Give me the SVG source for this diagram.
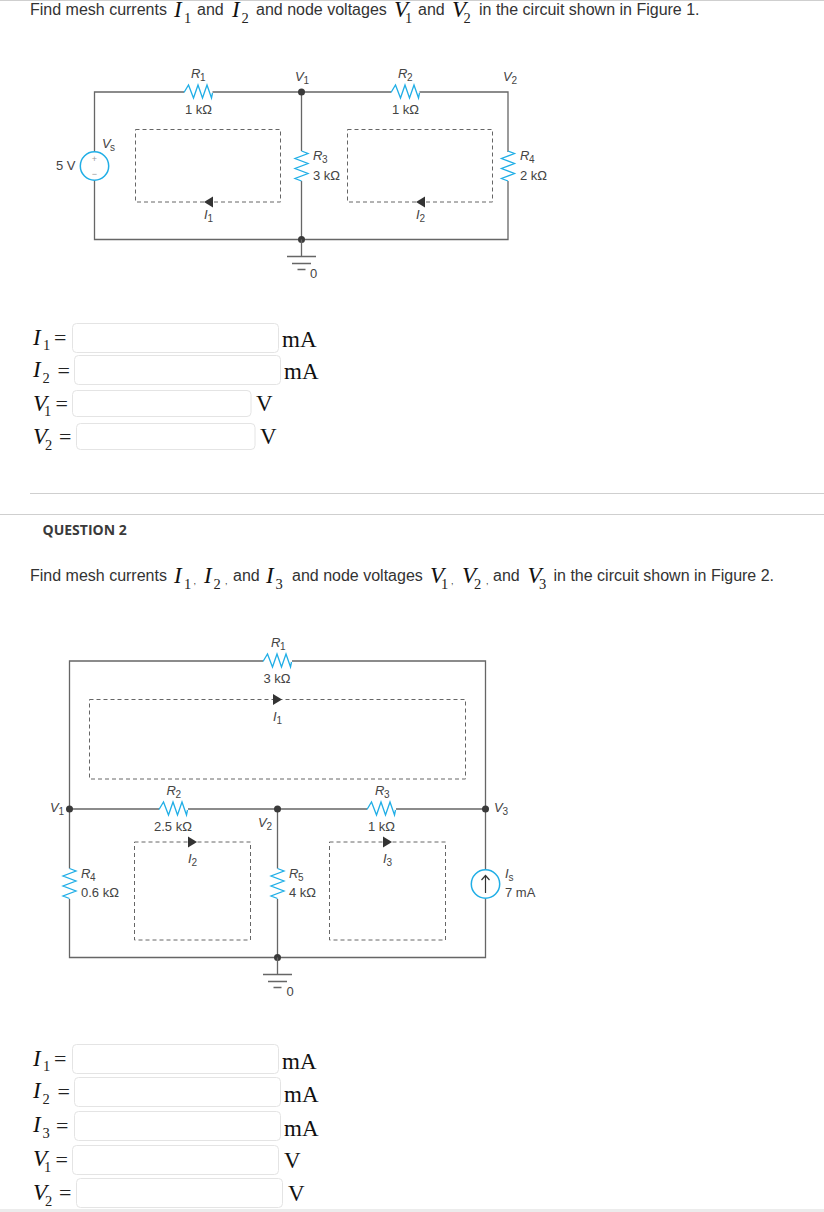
<svg xmlns="http://www.w3.org/2000/svg" width="824" height="1212" viewBox="0 0 824 1212">
<style>
.p{font:16px "Liberation Sans",Arial,sans-serif;fill:#333}
.m{font:italic 23px "Liberation Serif","Times New Roman",serif;fill:#111}
.s{font:14.500px "Liberation Serif","Times New Roman",serif;fill:#222}
.u{font:23px "Liberation Serif","Times New Roman",serif;fill:#111}
.e{font:22px "Liberation Serif","Times New Roman",serif;fill:#222}
.c{font:13px "Liberation Sans",Arial,sans-serif;fill:#444}
.i{font:italic 13px "Liberation Sans",Arial,sans-serif;fill:#444}
.b{font:10px "Liberation Sans",Arial,sans-serif;fill:#444}
.g{font:9px "Liberation Sans",Arial,sans-serif;fill:#999}
.k{font:9px "Liberation Sans",Arial,sans-serif;fill:#333}
.q{font:bold 14px "Open Sans",sans-serif;fill:#3a3a3a}
.w{fill:none;stroke:#666;stroke-width:1.3}
.d{fill:none;stroke:#666;stroke-width:1;stroke-dasharray:4 3}
.r{fill:none;stroke:#20aee6;stroke-width:1.3;stroke-linejoin:miter}
.ci{fill:#fff;stroke:#20aee6;stroke-width:1.5}
.dot{fill:#3a3a3a}
.f{fill:#fff;stroke:#e4e4e4;stroke-width:1}
.rule{stroke:#cfcfcf;stroke-width:1.2}
.a{fill:#333}
</style>
<defs>
<path id="rh" class="r" d="M0 0.500L4.500-7L9.500 6L14-7L18.500 6L23-7L27.500 6L28.500 1"/>
<path id="rv" class="r" d="M0 0L6.500 2.500L-6.500 7.500L6.500 12.500L-6.500 17.500L6.500 22.500L-6.500 27.500L0 30"/>
<path id="al" class="a" d="M0 0L9-5.500V5.500Z"/>
<path id="ar" class="a" d="M9 0L0-5.500V5.500Z"/>
<g id="gnd"><path class="w" d="M0 0V16.500M-14.500 17H14.500M-9.500 24H9.500M-4 30H4"/></g>
</defs>

<g id="page-rules">
<line class="rule" x1="0" y1="0.500" x2="824" y2="0.500"/>
<line class="rule" x1="30" y1="493.500" x2="824" y2="493.500"/>
<line class="rule" x1="0" y1="514.500" x2="824" y2="514.500"/>
<rect x="0" y="1209" width="824" height="3" fill="#ececec"/>
</g>

<g id="question1-text">
<text class="p" x="30" y="15">Find mesh currents</text>
<text class="m" x="174" y="17">I</text><text class="s" x="184" y="23">1</text>
<text class="p" x="197" y="15">and</text>
<text class="m" x="232" y="17">I</text><text class="s" x="241.500" y="23">2</text>
<text class="p" x="256" y="15">and node voltages</text>
<text class="m" x="394" y="17">V</text><text class="s" x="405" y="23">1</text>
<text class="p" x="418" y="15">and</text>
<text class="m" x="452" y="17">V</text><text class="s" x="463.500" y="23">2</text>
<text class="p" x="479" y="15">in the circuit shown in Figure 1.</text>
</g>

<g id="fig1-connectors">
<path class="w" d="M94.500 151.500V92H184M212.500 92H391M419.500 92H508V152M508 181V239.500H94.500V180.500"/>
<path class="w" d="M301.500 92V151M301.500 181V239.500"/>
</g>
<g id="fig1-R1"><use href="#rh" x="184" y="92"/><text class="i" x="191" y="78">R</text><text class="b" x="200" y="81">1</text><text class="c" x="185" y="114">1 kΩ</text></g>
<g id="fig1-R2"><use href="#rh" x="391" y="92"/><text class="i" x="398" y="78">R</text><text class="b" x="407" y="81">2</text><text class="c" x="392" y="114">1 kΩ</text></g>
<g id="fig1-R3"><use href="#rv" x="301.500" y="151"/><text class="i" x="313" y="160">R</text><text class="b" x="322" y="163">3</text><text class="c" x="313" y="180">3 kΩ</text></g>
<g id="fig1-R4"><use href="#rv" x="508" y="151"/><text class="i" x="520" y="160">R</text><text class="b" x="529" y="163">4</text><text class="c" x="520" y="180">2 kΩ</text></g>
<g id="fig1-Vs"><circle class="ci" cx="94.500" cy="166" r="14.200"/><text class="g" x="94.500" y="162" text-anchor="middle">+</text><text class="g" x="94.500" y="177" text-anchor="middle">−</text><text class="i" x="102" y="148">V</text><text class="b" x="110" y="151">s</text><text class="c" x="56" y="170">5 V</text></g>
<g id="fig1-V1"><circle class="dot" cx="301.500" cy="92" r="3.500"/><text class="i" x="295" y="81">V</text><text class="b" x="303.500" y="84">1</text></g>
<g id="fig1-V2"><text class="i" x="503" y="81">V</text><text class="b" x="511.500" y="84">2</text></g>
<g id="fig1-ground"><circle class="dot" cx="301.500" cy="239.500" r="3.500"/><use href="#gnd" x="301.500" y="239.500"/><text class="c" x="310" y="278">0</text></g>
<g id="fig1-mesh1"><rect class="d" x="135.500" y="129.500" width="145" height="72.500"/><use href="#al" x="204" y="202"/><text class="i" x="204" y="219">I</text><text class="b" x="207.500" y="222">1</text></g>
<g id="fig1-mesh2"><rect class="d" x="347.500" y="129.500" width="145" height="72.500"/><use href="#al" x="416" y="202"/><text class="i" x="416" y="219">I</text><text class="b" x="419.500" y="222">2</text></g>

<g id="answers1">
<text class="m" x="33" y="344.500">I</text><text class="s" x="43" y="350">1</text><text class="e" x="54" y="345">=</text>
<rect class="f" x="72.500" y="323.500" width="206" height="29" rx="4"/><text class="u" x="282" y="347">mA</text>
<text class="m" x="33" y="377">I</text><text class="s" x="42.500" y="383">2</text><text class="e" x="57.500" y="378">=</text>
<rect class="f" x="74.500" y="355.500" width="206" height="29" rx="4"/><text class="u" x="284" y="379">mA</text>
<text class="m" x="33" y="410.500">V</text><text class="s" x="44" y="416">1</text><text class="e" x="55.500" y="411">=</text>
<rect class="f" x="72.500" y="390.500" width="178.500" height="26" rx="4"/><text class="u" x="256" y="411">V</text>
<text class="m" x="33" y="443.500">V</text><text class="s" x="45" y="449.500">2</text><text class="e" x="59" y="444">=</text>
<rect class="f" x="76.500" y="423.500" width="178.500" height="26" rx="4"/><text class="u" x="260" y="444">V</text>
</g>

<text class="q" x="42.500" y="535">QUESTION 2</text>

<g id="question2-text">
<text class="p" x="30" y="581">Find mesh currents</text>
<text class="m" x="174" y="583">I</text><text class="s" x="184" y="589">1</text><text class="k" x="193.500" y="584">,</text>
<text class="m" x="204" y="583">I</text><text class="s" x="213.500" y="589">2</text><text class="k" x="225" y="584">,</text>
<text class="p" x="233" y="581">and</text>
<text class="m" x="266" y="583">I</text><text class="s" x="275.500" y="589">3</text>
<text class="p" x="292" y="581">and node voltages</text>
<text class="m" x="430" y="583">V</text><text class="s" x="441" y="589">1</text><text class="k" x="451" y="584">,</text>
<text class="m" x="462" y="583">V</text><text class="s" x="474" y="589">2</text><text class="k" x="486" y="584">,</text>
<text class="p" x="493" y="581">and</text>
<text class="m" x="527.500" y="583">V</text><text class="s" x="539" y="589">3</text>
<text class="p" x="553.500" y="581">in the circuit shown in Figure 2.</text>
</g>

<g id="fig2-connectors">
<path class="w" d="M69.500 868.500V661H263M292 661H485.500V869M485.500 899V957.500H69.500V899"/>
<path class="w" d="M69.500 809H159M188 809H367M396 809H485.500"/>
<path class="w" d="M277.500 809V868.500M277.500 899V957.500"/>
</g>
<g id="fig2-R1"><use href="#rh" x="263" y="661"/><text class="i" x="271" y="647">R</text><text class="b" x="280" y="650">1</text><text class="c" x="263.500" y="683">3 kΩ</text></g>
<g id="fig2-R2"><use href="#rh" x="159" y="809"/><text class="i" x="166.500" y="795">R</text><text class="b" x="175.500" y="798">2</text><text class="c" x="154" y="831">2.5 kΩ</text></g>
<g id="fig2-R3"><use href="#rh" x="367" y="809"/><text class="i" x="375" y="795">R</text><text class="b" x="384" y="798">3</text><text class="c" x="368" y="831">1 kΩ</text></g>
<g id="fig2-R4"><use href="#rv" x="69.500" y="868.500"/><text class="i" x="81" y="878">R</text><text class="b" x="90" y="881">4</text><text class="c" x="81" y="897">0.6 kΩ</text></g>
<g id="fig2-R5"><use href="#rv" x="277.500" y="868.500"/><text class="i" x="289" y="878">R</text><text class="b" x="298" y="881">5</text><text class="c" x="289" y="897">4 kΩ</text></g>
<g id="fig2-Is"><circle class="ci" cx="485.500" cy="884" r="14.200"/><path fill="none" stroke="#333" stroke-width="1.200" d="M485.500 893V876M481.500 880L485.500 875.500L489.500 880"/><text class="i" x="505" y="878">I</text><text class="b" x="508.500" y="881">s</text><text class="c" x="505" y="897">7 mA</text></g>
<g id="fig2-V1"><circle class="dot" cx="69.500" cy="809" r="3.500"/><text class="i" x="50" y="812">V</text><text class="b" x="58.500" y="815">1</text></g>
<g id="fig2-V2"><circle class="dot" cx="277.500" cy="809" r="3.500"/><text class="i" x="258" y="827">V</text><text class="b" x="266.500" y="830">2</text></g>
<g id="fig2-V3"><circle class="dot" cx="485.500" cy="809" r="3.500"/><text class="i" x="494" y="812">V</text><text class="b" x="502.500" y="815">3</text></g>
<g id="fig2-ground"><circle class="dot" cx="277.500" cy="957.500" r="3.500"/><use href="#gnd" x="277.500" y="957.500"/><text class="c" x="286.500" y="996">0</text></g>
<g id="fig2-mesh1"><rect class="d" x="89.500" y="699.500" width="376" height="79.500"/><use href="#ar" x="273" y="699.500"/><text class="i" x="273" y="720.500">I</text><text class="b" x="276.500" y="723.500">1</text></g>
<g id="fig2-mesh2"><rect class="d" x="134.500" y="842" width="116" height="98"/><use href="#ar" x="188" y="842"/><text class="i" x="188" y="863">I</text><text class="b" x="191.500" y="866">2</text></g>
<g id="fig2-mesh3"><rect class="d" x="329.500" y="842" width="116" height="98"/><use href="#ar" x="383" y="842"/><text class="i" x="383" y="863">I</text><text class="b" x="386.500" y="866">3</text></g>

<g id="answers2">
<text class="m" x="33" y="1065.500">I</text><text class="s" x="43" y="1071">1</text><text class="e" x="54" y="1066">=</text>
<rect class="f" x="72.500" y="1044.500" width="206" height="29" rx="4"/><text class="u" x="282" y="1069">mA</text>
<text class="m" x="33" y="1098">I</text><text class="s" x="42.500" y="1104">2</text><text class="e" x="57.500" y="1099">=</text>
<rect class="f" x="74.500" y="1077.500" width="206" height="29" rx="4"/><text class="u" x="284" y="1102">mA</text>
<text class="m" x="33" y="1132">I</text><text class="s" x="42.500" y="1138">3</text><text class="e" x="56" y="1133">=</text>
<rect class="f" x="74.500" y="1111.500" width="206" height="29" rx="4"/><text class="u" x="284" y="1136">mA</text>
<text class="m" x="33" y="1166">V</text><text class="s" x="44" y="1172">1</text><text class="e" x="55.500" y="1167">=</text>
<rect class="f" x="72.500" y="1145.500" width="206" height="29" rx="4"/><text class="u" x="284" y="1168">V</text>
<text class="m" x="33" y="1199.500">V</text><text class="s" x="45" y="1205.500">2</text><text class="e" x="59" y="1200">=</text>
<rect class="f" x="76.500" y="1178.500" width="206" height="29" rx="4"/><text class="u" x="288" y="1201">V</text>
</g>
</svg>
